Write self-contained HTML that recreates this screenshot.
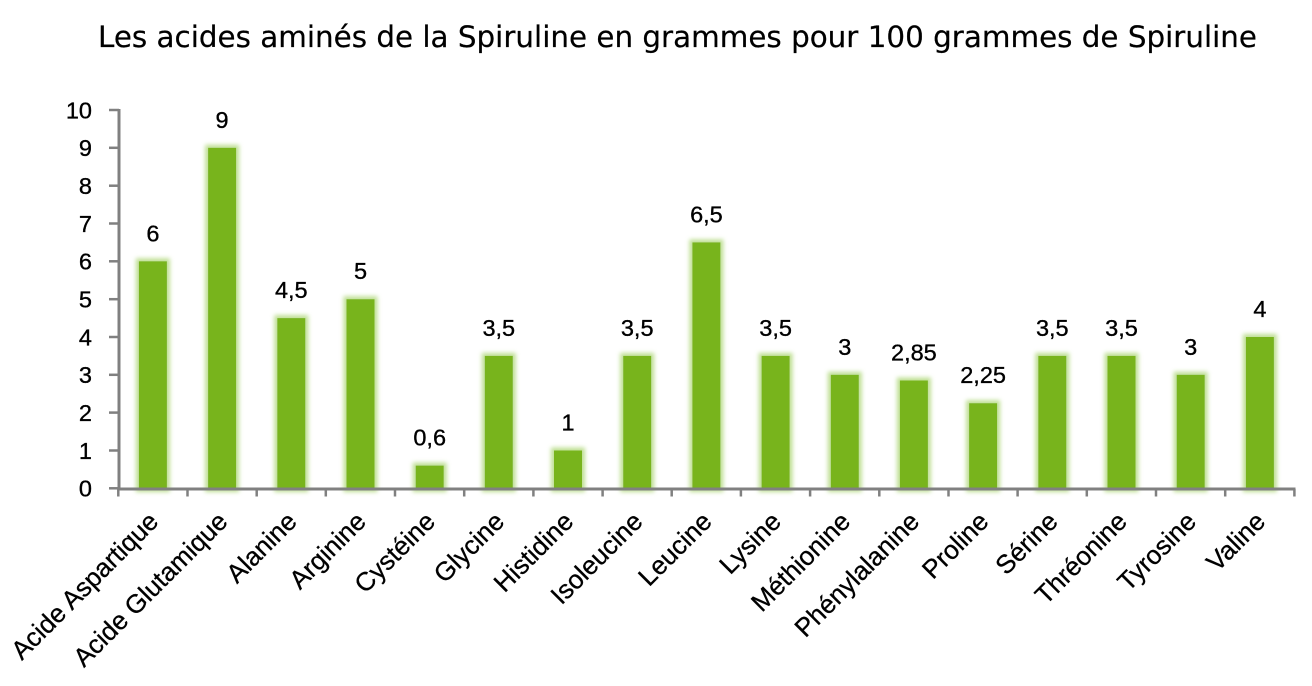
<!DOCTYPE html>
<html>
<head>
<meta charset="utf-8">
<style>
html,body{margin:0;padding:0;background:#fff;}
svg{display:block;}
.t{font-family:"DejaVu Sans","Liberation Sans",sans-serif;font-size:29px;fill:#000;stroke:#000;stroke-width:0.2px;}
.n{font-family:"Liberation Sans",sans-serif;font-size:23.5px;fill:#000;stroke:#000;stroke-width:0.35px;}
.c{font-family:"Liberation Sans",sans-serif;font-size:26px;fill:#000;stroke:#000;stroke-width:0.3px;}
</style>
</head>
<body>
<svg width="1312" height="686" viewBox="0 0 1312 686" xmlns="http://www.w3.org/2000/svg">
<defs>
<filter id="g" x="-60%" y="-20%" width="220%" height="140%">
<feMorphology in="SourceAlpha" operator="dilate" radius="3" result="d"/>
<feGaussianBlur in="d" stdDeviation="2.2" result="b"/>
<feFlood flood-color="#bfdf94"/>
<feComposite in2="b" operator="in" result="gl"/>
<feMerge><feMergeNode in="gl"/><feMergeNode in="SourceGraphic"/></feMerge>
</filter>
</defs>

<text class="t" x="98" y="47" textLength="1159" lengthAdjust="spacingAndGlyphs">Les acides aminés de la Spiruline en grammes pour 100 grammes de Spiruline</text>

<!-- bars -->
<g fill="#78b41e" filter="url(#g)">
<rect x="138.9" y="261.3" width="28" height="227.7"/>
<rect x="208.1" y="147.8" width="28" height="341.2"/>
<rect x="277.3" y="318.1" width="28" height="170.9"/>
<rect x="346.5" y="299.2" width="28" height="189.8"/>
<rect x="415.7" y="465.6" width="28" height="23.4"/>
<rect x="484.8" y="355.9" width="28" height="133.1"/>
<rect x="554.0" y="450.5" width="28" height="38.5"/>
<rect x="623.2" y="355.9" width="28" height="133.1"/>
<rect x="692.4" y="242.4" width="28" height="246.6"/>
<rect x="761.6" y="355.9" width="28" height="133.1"/>
<rect x="830.8" y="374.8" width="28" height="114.2"/>
<rect x="899.9" y="380.5" width="28" height="108.5"/>
<rect x="969.1" y="403.2" width="28" height="85.8"/>
<rect x="1038.3" y="355.9" width="28" height="133.1"/>
<rect x="1107.5" y="355.9" width="28" height="133.1"/>
<rect x="1176.7" y="374.8" width="28" height="114.2"/>
<rect x="1245.9" y="337.0" width="28" height="152"/>
</g>

<!-- axes -->
<g stroke="#808080" fill="none">
<line x1="119" y1="109" x2="119" y2="490" stroke-width="3"/>
<line x1="117.5" y1="489" x2="1295.5" y2="489" stroke-width="3"/>
<g stroke-width="2.5">
<line x1="109" y1="110" x2="119" y2="110"/>
<line x1="109" y1="147.8" x2="119" y2="147.8"/>
<line x1="109" y1="185.7" x2="119" y2="185.7"/>
<line x1="109" y1="223.5" x2="119" y2="223.5"/>
<line x1="109" y1="261.3" x2="119" y2="261.3"/>
<line x1="109" y1="299.2" x2="119" y2="299.2"/>
<line x1="109" y1="337.0" x2="119" y2="337.0"/>
<line x1="109" y1="374.8" x2="119" y2="374.8"/>
<line x1="109" y1="412.6" x2="119" y2="412.6"/>
<line x1="109" y1="450.5" x2="119" y2="450.5"/>
<line x1="109" y1="488.3" x2="119" y2="488.3"/>
</g>
<g stroke-width="2.5">
<line x1="118.3" y1="489" x2="118.3" y2="496.5"/>
<line x1="187.5" y1="489" x2="187.5" y2="496.5"/>
<line x1="256.7" y1="489" x2="256.7" y2="496.5"/>
<line x1="325.8" y1="489" x2="325.8" y2="496.5"/>
<line x1="395.0" y1="489" x2="395.0" y2="496.5"/>
<line x1="464.2" y1="489" x2="464.2" y2="496.5"/>
<line x1="533.4" y1="489" x2="533.4" y2="496.5"/>
<line x1="602.6" y1="489" x2="602.6" y2="496.5"/>
<line x1="671.7" y1="489" x2="671.7" y2="496.5"/>
<line x1="740.9" y1="489" x2="740.9" y2="496.5"/>
<line x1="810.1" y1="489" x2="810.1" y2="496.5"/>
<line x1="879.3" y1="489" x2="879.3" y2="496.5"/>
<line x1="948.5" y1="489" x2="948.5" y2="496.5"/>
<line x1="1017.6" y1="489" x2="1017.6" y2="496.5"/>
<line x1="1086.8" y1="489" x2="1086.8" y2="496.5"/>
<line x1="1156.0" y1="489" x2="1156.0" y2="496.5"/>
<line x1="1225.2" y1="489" x2="1225.2" y2="496.5"/>
<line x1="1294.4" y1="489" x2="1294.4" y2="496.5"/>
</g>
</g>

<!-- y tick labels -->
<g class="n" text-anchor="end">
<text x="92" y="118.3">10</text>
<text x="92" y="156.1">9</text>
<text x="92" y="194.0">8</text>
<text x="92" y="231.8">7</text>
<text x="92" y="269.6">6</text>
<text x="92" y="307.5">5</text>
<text x="92" y="345.3">4</text>
<text x="92" y="383.1">3</text>
<text x="92" y="420.9">2</text>
<text x="92" y="458.8">1</text>
<text x="92" y="496.6">0</text>
</g>

<!-- data labels -->
<g class="n" text-anchor="middle">
<text x="152.9" y="241.3">6</text>
<text x="222.1" y="127.8">9</text>
<text x="291.3" y="298.1">4,5</text>
<text x="360.5" y="279.2">5</text>
<text x="429.7" y="445.6">0,6</text>
<text x="498.8" y="335.9">3,5</text>
<text x="568.0" y="430.5">1</text>
<text x="637.2" y="335.9">3,5</text>
<text x="706.4" y="222.4">6,5</text>
<text x="775.6" y="335.9">3,5</text>
<text x="844.8" y="354.8">3</text>
<text x="913.9" y="360.5">2,85</text>
<text x="983.1" y="383.2">2,25</text>
<text x="1052.3" y="335.9">3,5</text>
<text x="1121.5" y="335.9">3,5</text>
<text x="1190.7" y="354.8">3</text>
<text x="1259.9" y="317.0">4</text>
</g>

<!-- category labels -->
<g class="c" text-anchor="end">
<text transform="translate(159.9,523) rotate(-45)">Acide Aspartique</text>
<text transform="translate(229.1,523) rotate(-45)">Acide Glutamique</text>
<text transform="translate(298.3,523) rotate(-45)">Alanine</text>
<text transform="translate(367.5,523) rotate(-45)">Arginine</text>
<text transform="translate(436.7,523) rotate(-45)">Cystéine</text>
<text transform="translate(505.8,523) rotate(-45)">Glycine</text>
<text transform="translate(575.0,523) rotate(-45)">Histidine</text>
<text transform="translate(644.2,523) rotate(-45)">Isoleucine</text>
<text transform="translate(713.4,523) rotate(-45)">Leucine</text>
<text transform="translate(782.6,523) rotate(-45)">Lysine</text>
<text transform="translate(851.8,523) rotate(-45)">Méthionine</text>
<text transform="translate(920.9,523) rotate(-45)">Phénylalanine</text>
<text transform="translate(990.1,523) rotate(-45)">Proline</text>
<text transform="translate(1059.3,523) rotate(-45)">Sérine</text>
<text transform="translate(1128.5,523) rotate(-45)">Thréonine</text>
<text transform="translate(1197.7,523) rotate(-45)">Tyrosine</text>
<text transform="translate(1266.9,523) rotate(-45)">Valine</text>
</g>
</svg>
</body>
</html>
